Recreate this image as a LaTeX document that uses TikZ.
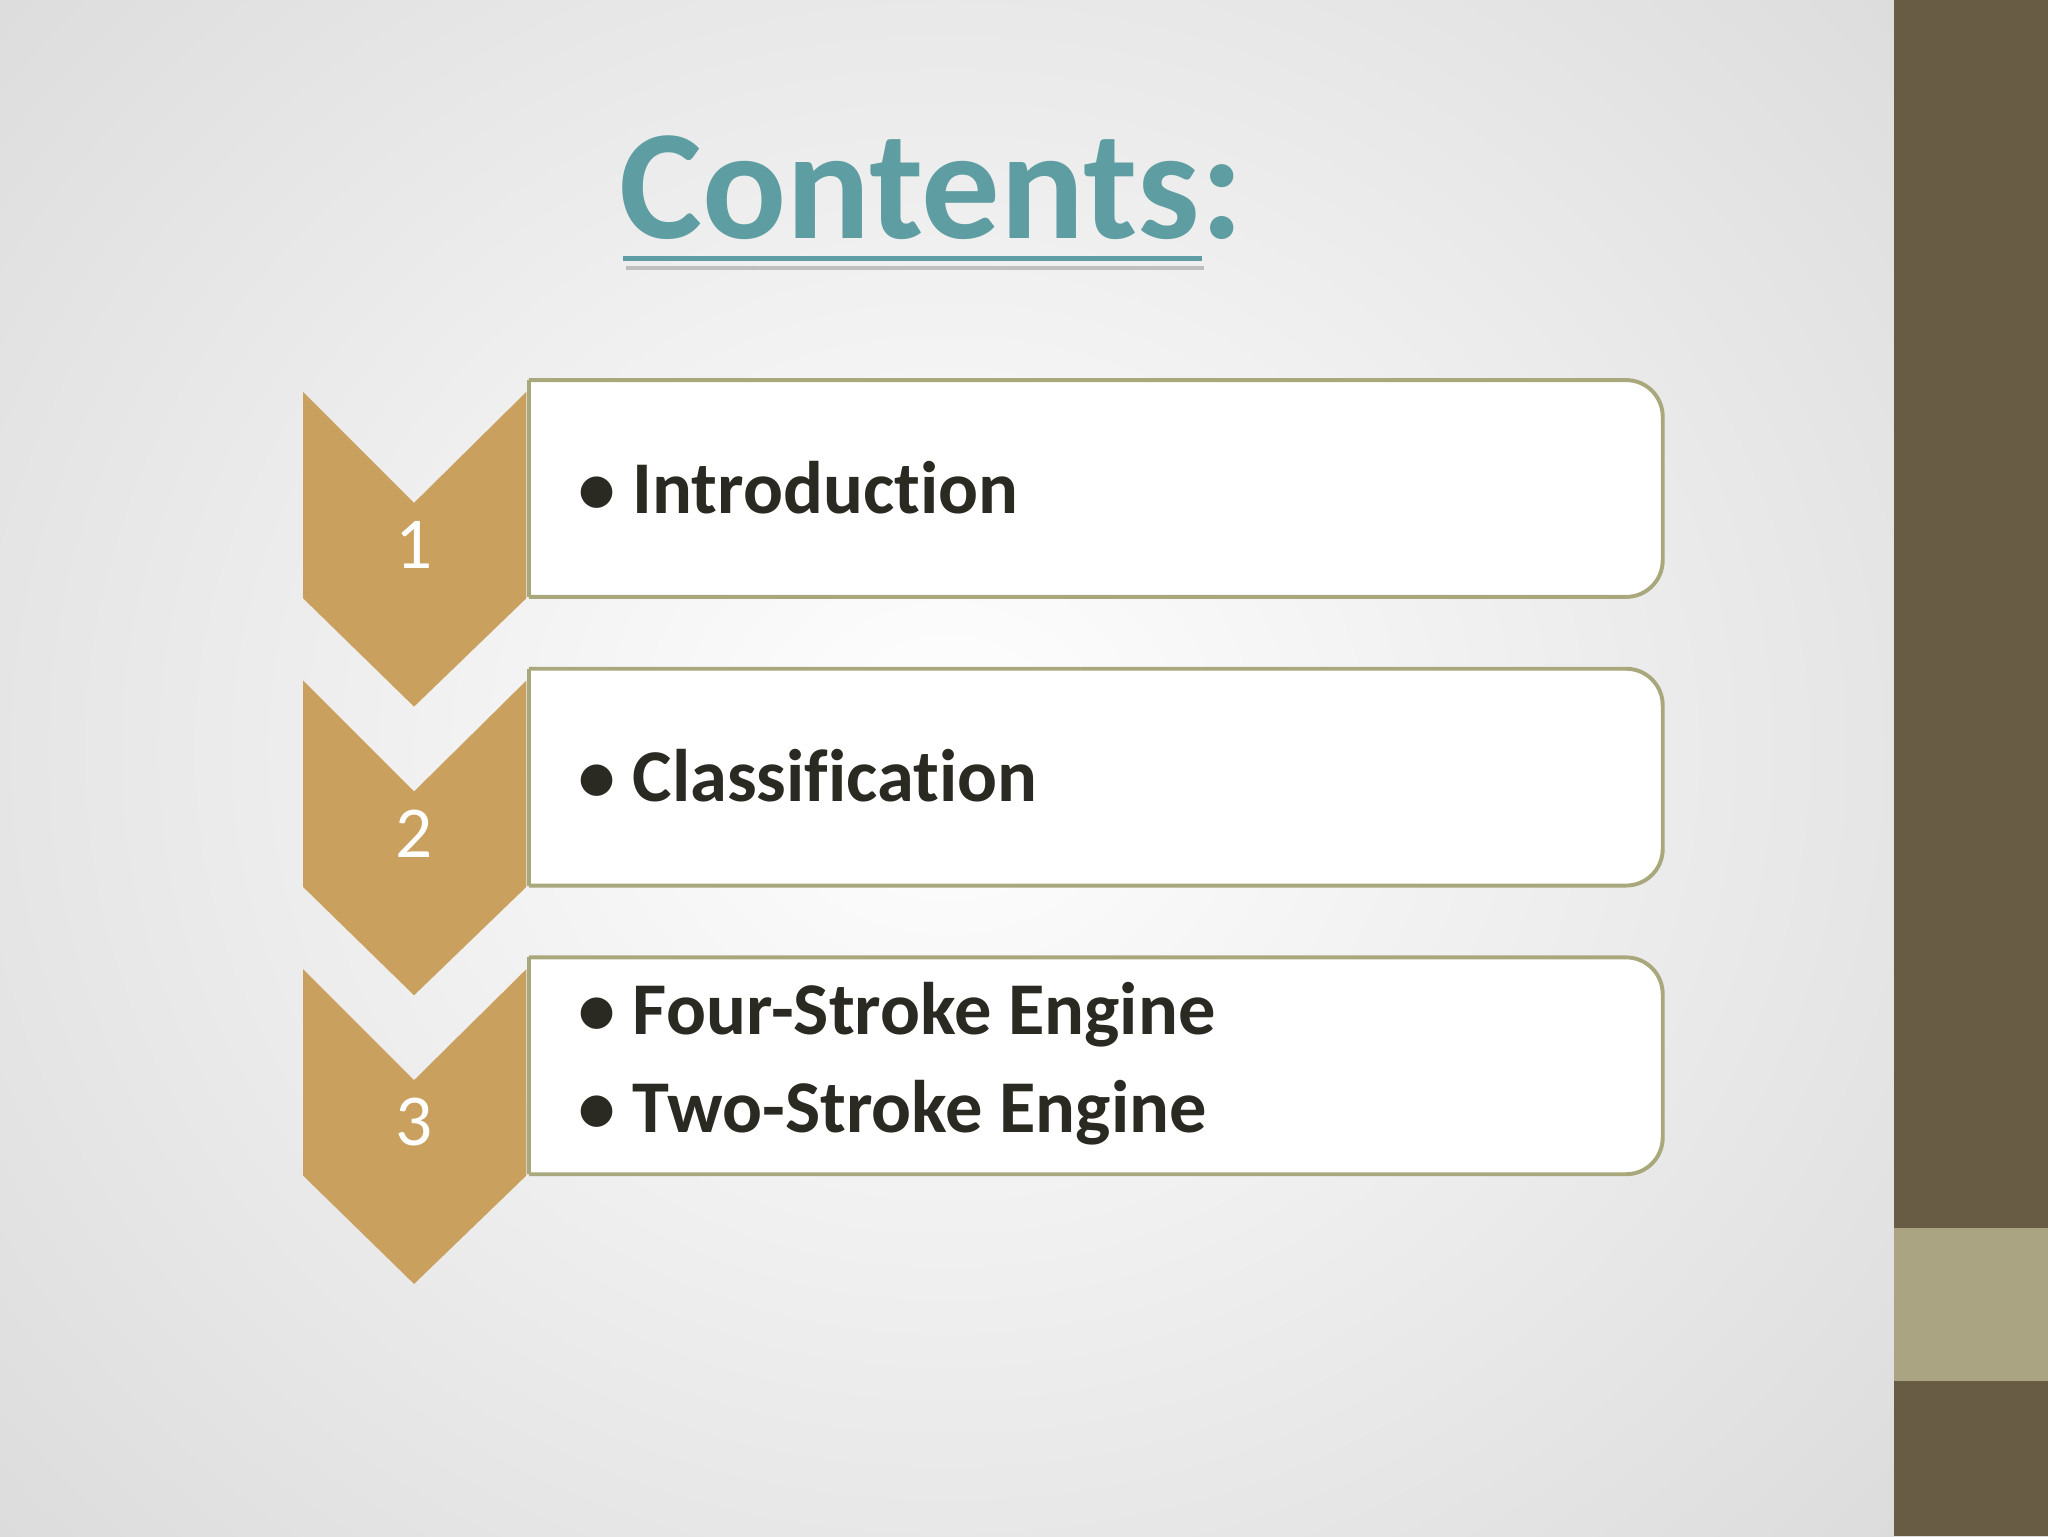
\documentclass[tikz,border=0pt]{standalone}
\usepackage{fontspec}
\setmainfont{Carlito}[Ligatures=NoCommon]
\definecolor{gold}{HTML}{C9A05E}
\definecolor{olive}{HTML}{A9A77C}
\definecolor{barA}{HTML}{695C45}
\definecolor{barB}{HTML}{ABA482}
\definecolor{teal}{HTML}{5E9EA2}
\definecolor{ink}{HTML}{2B2A22}
\begin{document}
\begin{tikzpicture}[x=1pt,y=-1pt,
  chev/.style={fill=gold,draw=none},
  itembox/.style={draw=olive,line width=3pt,fill=white},
  num/.style={white,font=\fontsize{56}{60}\selectfont},
  item/.style={anchor=west,text=ink,font=\bfseries\fontsize{57}{60}\selectfont,inner sep=0}]
\useasboundingbox (0,0) rectangle (1568,1176);
\shade[inner color=white,middle color=white,outer color=gray!30] (-350,-400) rectangle (1800,1550);
\fill[barA] (1450,0) rectangle (1568,1176);
\fill[barB] (1450,940) rectangle (1568,1057);
% title
\node[font=\bfseries\fontsize{120}{120}\selectfont,text=teal] (title) at (713,144) {Contents:};
\draw[teal,line width=4pt] (477,198) -- (920,198);
\draw[gray!50,line width=3pt] (479,205) -- (922,205);
\foreach \i/\dy in {1/0,2/221,3/442}{
  \fill[chev] (232,300+\dy) -- (317,385+\dy) -- (403,300+\dy) -- (403,458+\dy) -- (317,541+\dy) -- (232,458+\dy) -- cycle;
  \node[num] (n\i) at (317,417+\dy) {\i};
  \draw[itembox,rounded corners=28pt] (405,291+\dy) -- (1273,291+\dy) -- (1273,457+\dy) -- (405,457+\dy);
  \draw[itembox] (405,457+\dy) -- (405,291+\dy);
}
\node[item] (t1) at (443,373) {• Introduction};
\node[item] (t2) at (443,594) {• Classification};
\node[item] (t3) at (443,777) {• Four-Stroke Engine};
\node[item] (t4) at (443,852) {• Two-Stroke Engine};
\end{tikzpicture}
\end{document}
